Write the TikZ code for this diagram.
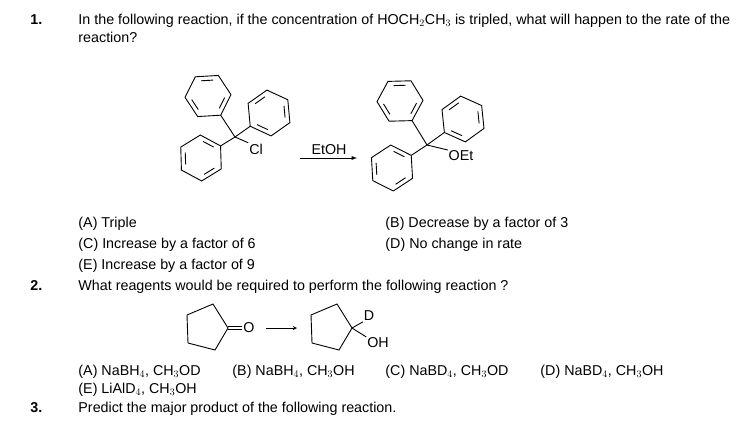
\documentclass[tikz,border=0pt]{standalone}
\usepackage{fontspec}
\setmainfont{Liberation Sans}
\usetikzlibrary{calc}
\begin{document}
\begin{tikzpicture}[x=1pt,y=-1pt,line width=0.9pt,
  txt/.style={anchor=base west,inner sep=0pt,font=\fontsize{14.3}{16}\selectfont},
  num/.style={txt,font=\bfseries\fontsize{14.3}{16}\selectfont},
  lbl/.style={inner sep=0.5pt,font=\fontsize{14.3}{16}\selectfont}]
\useasboundingbox (0,0) rectangle (743,426);
\newcommand{\phring}[3]{% center x,y ; central carbon name
  \coordinate (rc) at (#1,#2);
  \draw ($(rc)!23pt!0:(#3)$) \foreach \k in {1,...,5}{ -- ($(rc)!23pt!\k*60:(#3)$)} -- cycle;
  \foreach \k in {0,2,4}{
    \draw[shorten <=3pt,shorten >=3pt] ($(rc)!18pt!\k*60:(#3)$) -- ($(rc)!18pt!\k*60+60:(#3)$);}
  \draw ($(rc)!23pt!(#3)$) -- (#3);}
% texts
\node[num] (n1) at (30,24) {1.};
\node[txt] (q1) at (78,24) {In the following reaction, if the concentration of HOCH$_2$CH$_3$ is tripled, what will happen to the rate of the};
\node[txt] (q1b) at (78,42) {reaction?};
\node[txt] (a1) at (78,227) {(A) Triple};
\node[txt] (b1) at (385,227) {(B) Decrease by a factor of 3};
\node[txt] (c1) at (78,248) {(C) Increase by a factor of 6};
\node[txt] (d1) at (385,248) {(D) No change in rate};
\node[txt] (e1) at (78,269) {(E) Increase by a factor of 9};
\node[num] (n2) at (30,290) {2.};
\node[txt] (q2) at (78,290) {What reagents would be required to perform the following reaction ?};
\node[txt] (a2) at (78,375) {(A) NaBH$_4$, CH$_3$OD};
\node[txt] (b2) at (232,375) {(B) NaBH$_4$, CH$_3$OH};
\node[txt] (c2) at (385,375) {(C) NaBD$_4$, CH$_3$OD};
\node[txt] (d2) at (540,375) {(D) NaBD$_4$, CH$_3$OH};
\node[txt] (e2) at (78,393) {(E) LiAlD$_4$, CH$_3$OH};
\node[num] (n3) at (30,412) {3.};
\node[txt] (q3) at (78,412) {Predict the major product of the following reaction.};
% molecule 1
\coordinate (C1) at (235,137);
\phring{208}{96}{C1}
\phring{269}{113}{C1}
\phring{201}{158}{C1}
\node[lbl] (cl) at (256,149) {Cl};
\draw (C1) -- (cl.north west);
% arrow
\coordinate (ar1) at (300,158);
\coordinate (ar2) at (357,158);
\draw[-latex] (ar1) -- (ar2);
\node[lbl] (etoh) at (329,150) {EtOH};
% molecule 2
\coordinate (C2) at (427,145);
\phring{400}{101}{C2}
\phring{463}{119}{C2}
\phring{392}{168}{C2}
\node[lbl] (oet) at (461,156) {OEt};
\draw (C2) -- (oet.north west);
% cyclopentanone
\coordinate (k0) at (228,328);
\coordinate (k1) at (215,350);
\coordinate (k2) at (188,343);
\coordinate (k3) at (187,315);
\coordinate (k4) at (213,304);
\draw (k0) -- (k1) -- (k2) -- (k3) -- (k4) -- cycle;
\node[lbl] (o) at (249,328) {O};
\draw ($(k0)+(0,-1.6)$) -- ($(o.west)+(0,-1.6)$);
\draw ($(k0)+(0,1.6)$) -- ($(o.west)+(0,1.6)$);
\coordinate (ar3) at (266,328);
\coordinate (ar4) at (297,328);
\draw[-stealth] (ar3) -- (ar4);
\coordinate (p0) at (352,328);
\coordinate (p1) at (339,350);
\coordinate (p2) at (312,343);
\coordinate (p3) at (311,315);
\coordinate (p4) at (337,304);
\draw (p0) -- (p1) -- (p2) -- (p3) -- (p4) -- cycle;
\node[lbl] (d) at (369,316) {D};
\node[lbl] (oh) at (378,343) {OH};
\draw (p0) -- (d.south west);
\draw (p0) -- (oh.north west);
\end{tikzpicture}
\end{document}
